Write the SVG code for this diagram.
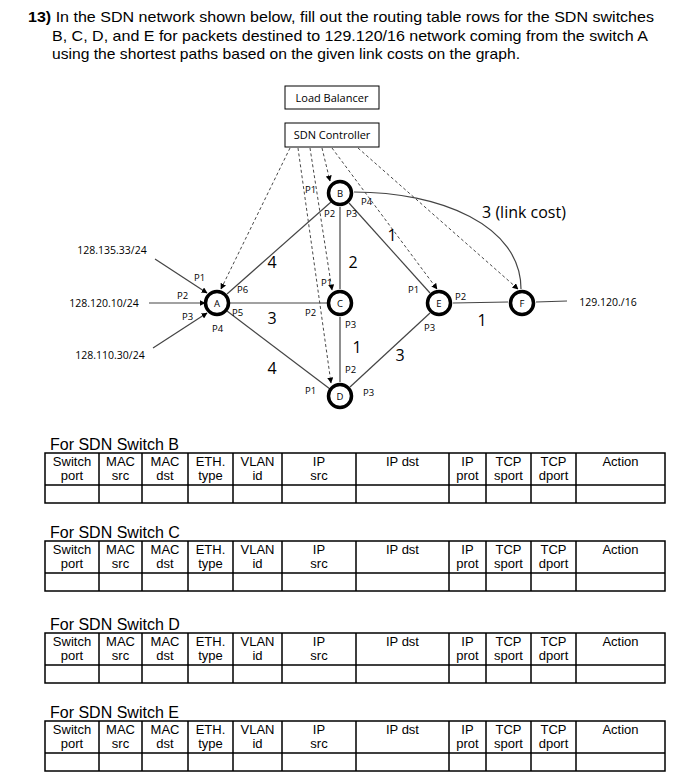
<svg xmlns="http://www.w3.org/2000/svg" width="674" height="778" viewBox="0 0 674 778">
<style>
.q{font-family:"Liberation Sans",Arial,sans-serif;font-size:15px;fill:#000}
.lbl{font-family:"Open Sans","Noto Sans",sans-serif;fill:#000}
.box{fill:#fff;stroke:#000;stroke-width:1}
.ln{fill:none;stroke:#444;stroke-width:1.2}
.ds{fill:none;stroke:#333;stroke-width:0.9;stroke-dasharray:3,2.5}
.nd{fill:#fff;stroke:#000;stroke-width:3.5}
.nt{font-family:"Open Sans","Noto Sans",sans-serif;font-size:9.5px;text-anchor:middle;fill:#000}
.pt{font-family:"Open Sans","Noto Sans",sans-serif;font-size:9.5px;fill:#000}
.cost{font-family:"Open Sans","Noto Sans",sans-serif;font-size:16px;fill:#000;text-anchor:middle}
.net{font-family:"Open Sans","Noto Sans",sans-serif;font-size:10.5px;fill:#000;text-anchor:middle}
.tt{font-family:"Liberation Sans",Arial,sans-serif;font-size:16px;fill:#000}
.th{font-family:"Liberation Sans",Arial,sans-serif;font-size:13px;fill:#000;text-anchor:middle}
.grid{fill:none;stroke:#000;stroke-width:1.5}
</style>
<defs>
<marker id="ah" viewBox="0 0 10 10" refX="9" refY="5" markerWidth="6" markerHeight="6" orient="auto" markerUnits="userSpaceOnUse">
<path d="M0,0 L10,5 L0,10 z" fill="#000"/>
</marker>
<g id="hdr">
<text class="th" x="72" y="13">Switch</text><text class="th" x="72" y="27">port</text>
<text class="th" x="120.5" y="13">MAC</text><text class="th" x="120.5" y="27">src</text>
<text class="th" x="165" y="13">MAC</text><text class="th" x="165" y="27">dst</text>
<text class="th" x="210.5" y="13">ETH.</text><text class="th" x="210.5" y="27">type</text>
<text class="th" x="257.5" y="13">VLAN</text><text class="th" x="257.5" y="27">id</text>
<text class="th" x="319" y="13">IP</text><text class="th" x="319" y="27">src</text>
<text class="th" x="402.5" y="13">IP dst</text>
<text class="th" x="467.5" y="13">IP</text><text class="th" x="467.5" y="27">prot</text>
<text class="th" x="508.5" y="13">TCP</text><text class="th" x="508.5" y="27">sport</text>
<text class="th" x="553.5" y="13">TCP</text><text class="th" x="553.5" y="27">dport</text>
<text class="th" x="620.5" y="13">Action</text>
<rect class="grid" x="45" y="0" width="620" height="50"/>
<path class="grid" d="M45,32H665M99,0V50M142,0V50M188,0V50M233,0V50M282,0V50M356,0V50M449,0V50M486,0V50M531,0V50M576,0V50"/>
</g>
</defs>

<g id="question">
<text class="q" x="28" y="22" textLength="626" lengthAdjust="spacingAndGlyphs"><tspan font-weight="bold">13)</tspan> In the SDN network shown below, fill out the routing table rows for the SDN switches</text>
<text class="q" x="52" y="41" textLength="596" lengthAdjust="spacingAndGlyphs">B, C, D, and E for packets destined to 129.120/16 network coming from the switch A</text>
<text class="q" x="52" y="59" textLength="468" lengthAdjust="spacingAndGlyphs">using the shortest paths based on the given link costs on the graph.</text>
</g>

<g id="load-balancer">
<rect class="box" x="285" y="86" width="94" height="23"/>
<text class="lbl" x="332" y="101.5" font-size="11" text-anchor="middle">Load Balancer</text>
</g>
<g id="sdn-controller">
<rect class="box" x="285" y="123" width="94" height="24"/>
<text class="lbl" x="332" y="139" font-size="11" text-anchor="middle">SDN Controller</text>
</g>

<g id="connectors">
<line class="ds" x1="290" y1="148" x2="221" y2="289" marker-end="url(#ah)"/>
<line class="ds" x1="298" y1="148" x2="331" y2="383" marker-end="url(#ah)"/>
<line class="ds" x1="310" y1="148" x2="332" y2="290" marker-end="url(#ah)"/>
<line class="ds" x1="322" y1="148" x2="330" y2="181" marker-end="url(#ah)"/>
<line class="ds" x1="332" y1="148" x2="437" y2="289" marker-end="url(#ah)"/>
<line class="ds" x1="358" y1="148" x2="518" y2="289" marker-end="url(#ah)"/>
<line class="ln" x1="155" y1="259" x2="207" y2="293" marker-end="url(#ah)"/>
<line class="ln" x1="149" y1="303" x2="205" y2="303" marker-end="url(#ah)"/>
<line class="ln" x1="153" y1="348" x2="207" y2="313" marker-end="url(#ah)"/>
<line class="ln" x1="227" y1="294" x2="331" y2="202"/>
<line class="ln" x1="230" y1="303" x2="327" y2="303"/>
<line class="ln" x1="227" y1="311" x2="330" y2="389"/>
<line class="ln" x1="340" y1="207" x2="340" y2="289"/>
<line class="ln" x1="340" y1="317" x2="340" y2="382"/>
<line class="ln" x1="349" y1="203" x2="430" y2="293"/>
<line class="ln" x1="350" y1="387" x2="430" y2="313"/>
<line class="ln" x1="453" y1="303" x2="508" y2="302"/>
<line class="ln" x1="536" y1="302" x2="567" y2="301"/>
<path class="ln" d="M354,192 C440,192 521,225 521,289"/>
</g>

<g id="node-A">
<circle class="nd" cx="217" cy="303" r="11.5"/>
<text class="nt" x="217" y="306.5">A</text>
<text class="pt" x="194" y="281">P1</text>
<text class="pt" x="177" y="299">P2</text>
<text class="pt" x="182" y="320">P3</text>
<text class="pt" x="212" y="332">P4</text>
<text class="pt" x="232" y="316">P5</text>
<text class="pt" x="237" y="293">P6</text>
</g>
<g id="node-B">
<circle class="nd" cx="340" cy="193" r="11.5"/>
<text class="nt" x="340" y="196.5">B</text>
<text class="pt" x="305" y="193">P1</text>
<text class="pt" x="324" y="217">P2</text>
<text class="pt" x="346" y="217">P3</text>
<text class="pt" x="361" y="205">P4</text>
</g>
<g id="node-C">
<circle class="nd" cx="340" cy="303" r="11.5"/>
<text class="nt" x="340" y="306.5">C</text>
<text class="pt" x="321" y="286">P1</text>
<text class="pt" x="305" y="316">P2</text>
<text class="pt" x="345" y="328">P3</text>
</g>
<g id="node-D">
<circle class="nd" cx="340" cy="396" r="11.5"/>
<text class="nt" x="340" y="399.5">D</text>
<text class="pt" x="345" y="373">P2</text>
<text class="pt" x="305" y="394">P1</text>
<text class="pt" x="363" y="396">P3</text>
</g>
<g id="node-E">
<circle class="nd" cx="439" cy="303" r="11.5"/>
<text class="nt" x="439" y="306.5">E</text>
<text class="pt" x="408" y="293">P1</text>
<text class="pt" x="455" y="300">P2</text>
<text class="pt" x="424" y="331">P3</text>
</g>
<g id="node-F">
<circle class="nd" cx="522" cy="303" r="11.5"/>
<text class="nt" x="522" y="306.5">F</text>
</g>

<g id="labels">
<text class="net" x="112" y="254">128.135.33/24</text>
<text class="net" x="104" y="307">128.120.10/24</text>
<text class="net" x="110" y="359">128.110.30/24</text>
<text class="net" x="608" y="306">129.120./16</text>
<text class="cost" x="272" y="268">4</text>
<text class="cost" x="272" y="324">3</text>
<text class="cost" x="272" y="374">4</text>
<text class="cost" x="353" y="268">2</text>
<text class="cost" x="357" y="353">1</text>
<text class="cost" x="392" y="241">1</text>
<text class="cost" x="400" y="361">3</text>
<text class="cost" x="482" y="326">1</text>
<text class="cost" x="524" y="218">3 (link cost)</text>
</g>

<g id="table-B">
<text class="tt" x="50" y="450">For SDN Switch B</text>
<use href="#hdr" x="0" y="453"/>
</g>
<g id="table-C">
<text class="tt" x="50" y="538">For SDN Switch C</text>
<use href="#hdr" x="0" y="541"/>
</g>
<g id="table-D">
<text class="tt" x="50" y="630">For SDN Switch D</text>
<use href="#hdr" x="0" y="633"/>
</g>
<g id="table-E">
<text class="tt" x="50" y="718">For SDN Switch E</text>
<use href="#hdr" x="0" y="721"/>
</g>
</svg>
